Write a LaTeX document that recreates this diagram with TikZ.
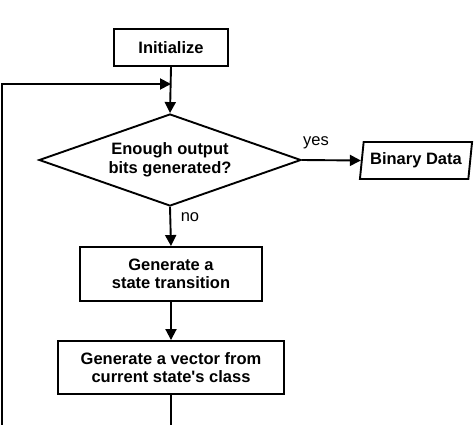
\documentclass[tikz,border=0pt]{standalone}
\usepackage{fontspec}
\setmainfont{Liberation Sans}
\usetikzlibrary{shapes.geometric,arrows.meta}
\newcommand{\straightquote}{\XeTeXglyph\XeTeXcharglyph"0027\relax}
\begin{document}
\begin{tikzpicture}[x=1pt,y=-1pt,
  base/.style={draw=black,line width=1.9pt,font=\fontsize{16.5}{18.5}\selectfont\bfseries,align=center,inner sep=0pt},
  procbox/.style={base,rectangle},
  decbox/.style={base,diamond,shape aspect=2.85},
  iobox/.style={base,trapezium,trapezium left angle=78,trapezium right angle=102,trapezium stretches=true},
  conn/.style={line width=1.9pt,-{Triangle[length=11pt,width=11pt]}},
  plain/.style={line width=1.9pt},
  lbl/.style={font=\fontsize{16.5}{18}\selectfont,inner sep=0pt}]
\useasboundingbox (0,0) rectangle (474,424);
\node[procbox,minimum width=114pt,minimum height=37pt] (init) at (171,47.5) {Initialize};
\node[decbox,minimum width=262pt,minimum height=92pt] (dec) at (170,160) {Enough output\\bits generated?};
\node[iobox,minimum width=113pt,minimum height=37pt] (bin) at (416,160.5) {Binary Data};
\node[procbox,minimum width=182pt,minimum height=54pt] (gen1) at (171,274) {Generate a\\state transition};
\node[procbox,minimum width=226pt,minimum height=53pt] (gen2) at (171,367.5) {Generate a vector from\\current state\straightquote s class};
\coordinate (join) at (171,84);
\coordinate (bl) at (2,426);
\coordinate (br) at (171,426);
\coordinate (tl) at (2,84);
\draw[conn] (init.south) -- (dec.north);
\draw[conn] (dec.east) -- (bin.west);
\draw[conn] (dec.south) -- (gen1.north);
\draw[conn] (gen1.south) -- (gen2.north);
\draw[plain] (gen2.south) -- (br) -- (bl) -- ([yshift=0.95pt]tl);
\draw[conn] (tl) -- (join);
\node[lbl] (yes) at (316,143) {yes};
\node[lbl] (no) at (190,217) {no};
\end{tikzpicture}
\end{document}
